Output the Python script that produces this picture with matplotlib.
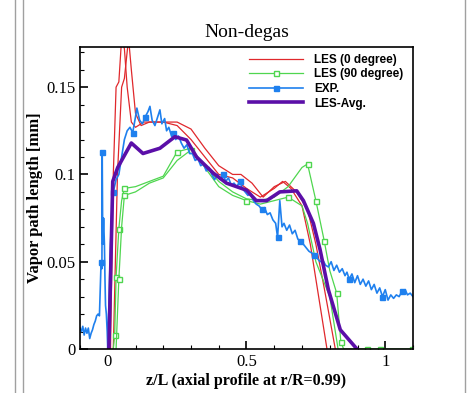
import matplotlib
matplotlib.use("Agg")
import matplotlib.pyplot as plt
from matplotlib.lines import Line2D
from matplotlib.ticker import MultipleLocator, FuncFormatter

# ---------------- data ----------------
red_a_x = [0.010, 0.020, 0.030, 0.040, 0.050, 0.060, 0.070, 0.085, 0.100, 0.130, 0.200, 0.250,
           0.300, 0.350, 0.400, 0.450, 0.500, 0.550, 0.600, 0.630, 0.660, 0.700, 0.730, 0.760, 0.790]
red_a_y = [0.000, 0.100, 0.150, 0.153, 0.178, 0.172, 0.150, 0.130, 0.127, 0.130, 0.130, 0.128,
           0.120, 0.110, 0.100, 0.098, 0.092, 0.087, 0.092, 0.096, 0.092, 0.082, 0.060, 0.030, 0.000]

red_b_x = [0.020, 0.035, 0.050, 0.060, 0.075, 0.085, 0.100, 0.120, 0.150, 0.250, 0.300, 0.350,
           0.400, 0.450, 0.480, 0.520, 0.560, 0.600, 0.640, 0.680, 0.720, 0.750, 0.780, 0.820]
red_b_y = [0.000, 0.100, 0.150, 0.155, 0.178, 0.160, 0.135, 0.128, 0.130, 0.130, 0.126, 0.115,
           0.105, 0.100, 0.100, 0.095, 0.087, 0.093, 0.096, 0.090, 0.080, 0.060, 0.035, 0.000]

green_a_x = [0.020, 0.025, 0.030, 0.040, 0.050, 0.060, 0.100, 0.150, 0.200, 0.250, 0.300, 0.350,
             0.400, 0.450, 0.500, 0.550, 0.600, 0.650, 0.700, 0.720, 0.750, 0.780, 0.800, 0.825,
             0.840, 0.850, 0.934, 0.980, 1.098]
green_a_y = [0.000, 0.008, 0.041, 0.069, 0.085, 0.092, 0.093, 0.096, 0.099, 0.113, 0.115, 0.105,
             0.096, 0.090, 0.086, 0.085, 0.087, 0.093, 0.104, 0.106, 0.085, 0.062, 0.045, 0.032,
             0.004, 0.000, 0.000, 0.000, 0.000]

green_b_x = [0.030, 0.040, 0.050, 0.060, 0.100, 0.150, 0.200, 0.250, 0.300, 0.350, 0.400, 0.450,
             0.500, 0.550, 0.600, 0.650, 0.700, 0.720, 0.750, 0.800, 0.820, 0.830]
green_b_y = [0.000, 0.040, 0.070, 0.088, 0.090, 0.095, 0.098, 0.108, 0.114, 0.104, 0.093, 0.088,
             0.085, 0.083, 0.085, 0.087, 0.082, 0.072, 0.050, 0.030, 0.010, 0.000]

exp_x = [-0.100, -0.095, -0.090, -0.085, -0.080, -0.075, -0.070, -0.065, -0.060, -0.055, -0.050,
         -0.045, -0.040, -0.035, -0.030, -0.027, -0.024, -0.021, -0.020, -0.018, -0.015, -0.012,
         -0.010, -0.008, -0.005, -0.002, 0.000, 0.005, 0.010, 0.015, 0.020, 0.030, 0.040, 0.050,
         0.060, 0.070, 0.080, 0.090, 0.100, 0.105, 0.115, 0.125, 0.135, 0.145, 0.152, 0.160, 0.170,
         0.180, 0.188, 0.195, 0.205, 0.212, 0.220, 0.230, 0.236, 0.245, 0.255, 0.265, 0.275, 0.285,
         0.295, 0.305, 0.315, 0.325, 0.335, 0.345, 0.355, 0.365, 0.375, 0.385, 0.395, 0.405, 0.416,
         0.425, 0.435, 0.445, 0.455, 0.465, 0.476, 0.485, 0.495, 0.505, 0.515, 0.525, 0.535, 0.545,
         0.555, 0.565, 0.575, 0.585, 0.595, 0.605, 0.612, 0.620, 0.628, 0.635, 0.645, 0.655, 0.665,
         0.675, 0.685, 0.693, 0.705, 0.715, 0.725, 0.735, 0.745, 0.755, 0.765, 0.775, 0.785, 0.795,
         0.805, 0.815, 0.825, 0.835, 0.845, 0.855, 0.862, 0.870, 0.880, 0.890, 0.900, 0.910, 0.920,
         0.930, 0.940, 0.950, 0.960, 0.970, 0.980, 0.990, 1.000, 1.010, 1.020, 1.030, 1.040, 1.050,
         1.060, 1.072, 1.080, 1.090, 1.100]
exp_y = [0.012, 0.010, 0.013, 0.008, 0.012, 0.009, 0.012, 0.006, 0.009, 0.011, 0.014,
         0.016, 0.019, 0.020, 0.019, 0.035, 0.050, 0.046, 0.113, 0.060, 0.075, 0.060,
         0.040, 0.025, 0.020, 0.010, 0.000, 0.030, 0.060, 0.080, 0.090, 0.097, 0.100, 0.110,
         0.120, 0.125, 0.127, 0.124, 0.133, 0.138, 0.131, 0.129, 0.133, 0.136, 0.139, 0.131, 0.128,
         0.133, 0.137, 0.129, 0.132, 0.125, 0.127, 0.122, 0.124, 0.120, 0.122, 0.118, 0.115, 0.117,
         0.112, 0.112, 0.108, 0.109, 0.105, 0.106, 0.102, 0.104, 0.100, 0.097, 0.100, 0.097, 0.100,
         0.096, 0.098, 0.094, 0.095, 0.093, 0.096, 0.092, 0.090, 0.088, 0.089, 0.085, 0.083, 0.082,
         0.080, 0.081, 0.077, 0.078, 0.074, 0.072, 0.064, 0.085, 0.070, 0.072, 0.068, 0.071, 0.066,
         0.068, 0.063, 0.062, 0.060, 0.058, 0.056, 0.055, 0.054, 0.052, 0.050, 0.051, 0.048, 0.047,
         0.050, 0.045, 0.048, 0.044, 0.046, 0.042, 0.044, 0.040, 0.043, 0.038, 0.042, 0.037, 0.040,
         0.036, 0.039, 0.034, 0.037, 0.032, 0.035, 0.030, 0.034, 0.028, 0.031, 0.029, 0.031, 0.030,
         0.033, 0.034, 0.031, 0.032, 0.030]
exp_marker_idx = [16, 18, 30, 37, 42, 54, 72, 78, 86, 92, 101, 106, 119, 131, 138]

avg_x = [0.004, 0.018, 0.036, 0.085, 0.127, 0.188, 0.242, 0.284, 0.320, 0.380, 0.428, 0.500,
         0.535, 0.573, 0.620, 0.681, 0.705, 0.741, 0.765, 0.795, 0.838, 0.898]
avg_y = [0.000, 0.096, 0.104, 0.118, 0.112, 0.115, 0.1216, 0.1197, 0.110, 0.1008, 0.095, 0.091,
         0.085, 0.085, 0.090, 0.0906, 0.085, 0.072, 0.057, 0.034, 0.011, 0.000]

labels = ["LES (0 degree)", "LES (90 degree)", "EXP.", "LES-Avg."]
title = "Non-degas"
xlabel = "z/L (axial profile at r/R=0.99)"
ylabel = "Vapor path length [mm]"

# ---------------- figure ----------------
fig = plt.figure(figsize=(4.74, 3.93), dpi=100)
ax = fig.add_axes([80/474, 1-349/393, 333/474, 302/393])

red = "#e0282c"
green = "#4fd64f"
blue = "#1f80ee"
purple = "#5b0fa8"
ms = 3.6

ax.plot(red_a_x, red_a_y, color=red, lw=0.9, label=labels[0])
ax.plot(red_b_x, red_b_y, color=red, lw=0.9)
ax.plot(green_a_x, green_a_y, color=green, lw=0.9, marker="s", ms=ms, mfc="white",
        mec=green, markevery=[1, 2, 3, 5, 9, 19, 20, 21, 23, 24, 26, 27, 28], label=labels[1])
ax.plot(green_b_x, green_b_y, color=green, lw=0.9, marker="s", ms=ms, mfc="white",
        mec=green, markevery=[1, 3, 8, 12, 15])
ax.plot(exp_x, exp_y, color=blue, lw=1.2, marker="s", ms=ms, mfc=blue, mec=blue,
        markevery=exp_marker_idx, label=labels[2])
ax.plot(avg_x, avg_y, color=purple, lw=2.6, label=labels[3])

ax.set_xlim(-0.1, 1.1)
ax.set_ylim(0, 0.173)
ax.xaxis.set_major_locator(MultipleLocator(0.5))
ax.xaxis.set_minor_locator(MultipleLocator(0.1))
ax.yaxis.set_major_locator(MultipleLocator(0.05))
ax.yaxis.set_minor_locator(MultipleLocator(0.01))
ax.xaxis.set_major_formatter(FuncFormatter(lambda v, p: f"{v:g}"))
ax.yaxis.set_major_formatter(FuncFormatter(lambda v, p: f"{v:g}"))
ax.tick_params(which="major", direction="in", length=6, width=1.2, top=False, right=False)
ax.tick_params(which="minor", direction="in", length=3, width=0.8, top=False, right=False)
for lab in ax.get_xticklabels() + ax.get_yticklabels():
    lab.set_fontfamily("Liberation Serif")
    lab.set_fontsize(12)
for s in ax.spines.values():
    s.set_linewidth(1.2)

ax.set_title(title, fontfamily="Liberation Serif", fontsize=14, pad=7)
ax.set_xlabel(xlabel, fontfamily="Liberation Serif", fontweight="bold", fontsize=11.5, labelpad=2)
ax.set_ylabel(ylabel, fontfamily="Liberation Serif", fontweight="bold", fontsize=12, labelpad=2)

leg = ax.legend(loc="upper right", frameon=False, handlelength=4.6, numpoints=1,
                prop={"family": "Liberation Sans", "weight": "bold", "size": 8.5},
                bbox_to_anchor=(0.995, 1.005),
                borderaxespad=0.3, labelspacing=0.22, handletextpad=0.9)

for xf in (15/474, 23/474, 465/474):
    fig.add_artist(Line2D([xf, xf], [0, 1], transform=fig.transFigure, color="#a0a0a0", lw=1))

fig.savefig("out.png", dpi=100)
